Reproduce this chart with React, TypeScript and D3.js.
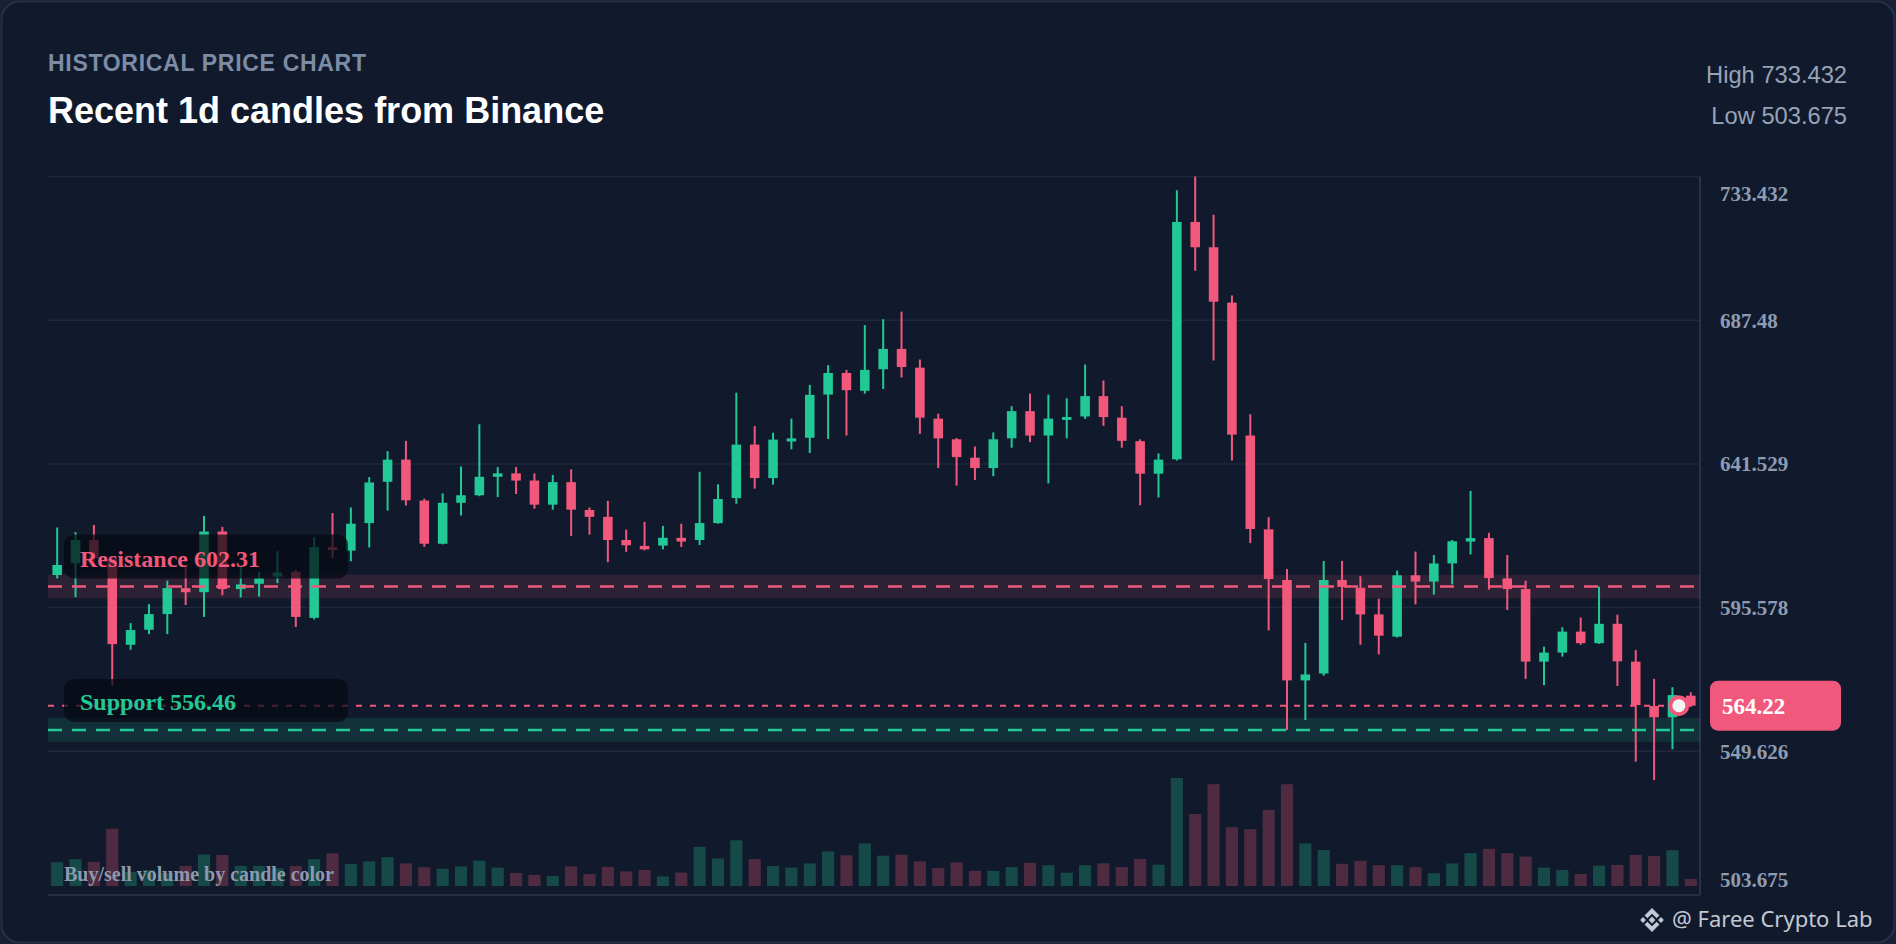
import React from "react";
import * as d3 from "d3";

// daily candles, oldest first
const opens = [
  606.0, 609.8, 617.2, 611.1, 583.7, 588.5, 593.5, 601.8, 600.5, 619.9,
  601.5, 603.2, 605.5, 607.0, 592.3, 614.9, 613.8, 622.6, 635.8, 642.9,
  629.8, 616.0, 629.1, 631.5, 637.4, 638.5, 636.2, 628.5, 635.7, 626.8,
  624.6, 617.2, 615.3, 615.4, 617.9, 617.2, 622.6, 630.6, 647.7, 637.0,
  648.7, 649.9, 663.7, 670.6, 664.9, 671.8, 678.3, 672.3, 656.0, 649.4,
  643.5, 640.2, 649.7, 658.4, 650.6, 655.6, 656.7, 663.2, 656.3, 648.8,
  638.4, 643.0, 718.9, 710.8, 693.1, 650.6, 620.6, 604.4, 572.3, 574.5,
  604.4, 601.9, 593.4, 586.3, 605.9, 603.9, 609.7, 616.7, 617.8, 604.9,
  601.5, 578.3, 581.2, 587.9, 584.2, 590.4, 578.3, 564.1, 560.5, 567.4,
];
const highs = [
  621.2, 619.7, 622.0, 611.8, 590.6, 596.7, 604.2, 608.5, 624.9, 621.4,
  608.5, 607.0, 613.6, 607.6, 618.1, 625.8, 627.6, 637.3, 645.6, 648.9,
  630.4, 632.1, 640.7, 654.2, 640.5, 640.5, 638.5, 638.0, 639.8, 627.6,
  629.7, 620.5, 623.0, 621.7, 622.4, 639.0, 635.0, 664.3, 653.6, 651.5,
  656.0, 666.8, 673.1, 671.6, 685.9, 687.8, 690.2, 674.9, 657.6, 649.8,
  647.1, 651.6, 660.0, 664.0, 663.7, 662.5, 673.3, 668.2, 660.0, 649.4,
  644.9, 729.0, 733.432, 721.2, 695.4, 657.4, 624.5, 607.9, 584.3, 610.5,
  610.5, 605.6, 598.4, 607.4, 613.5, 612.4, 617.2, 632.9, 619.5, 612.4,
  604.2, 583.1, 589.3, 592.4, 602.3, 593.3, 582.0, 572.8, 570.1, 568.5,
];
const lows = [
  604.9, 598.9, 610.1, 570.6, 582.1, 587.1, 587.1, 596.4, 592.6, 599.5,
  598.8, 599.1, 603.4, 589.4, 591.8, 611.4, 610.4, 614.8, 626.6, 628.2,
  615.0, 615.8, 625.0, 631.2, 630.9, 631.9, 627.2, 626.9, 618.5, 618.9,
  610.1, 613.4, 613.9, 614.2, 615.0, 615.6, 622.4, 628.8, 633.6, 634.9,
  646.2, 645.0, 649.5, 650.6, 664.0, 665.5, 669.2, 651.1, 640.2, 634.6,
  636.4, 637.6, 646.7, 648.5, 635.3, 649.7, 655.9, 653.7, 646.7, 628.3,
  630.8, 642.6, 703.3, 674.6, 642.6, 616.2, 588.3, 556.4, 559.6, 573.8,
  591.6, 583.7, 580.6, 586.0, 596.6, 599.7, 603.0, 612.6, 601.3, 594.8,
  572.8, 570.8, 579.9, 583.7, 584.0, 570.5, 546.3, 540.4, 550.3, 564.0,
];
const closes = [
  609.2, 617.2, 611.4, 583.9, 588.4, 593.5, 601.8, 600.5, 619.9, 601.5,
  603.0, 604.9, 606.8, 592.6, 614.9, 614.0, 622.4, 635.6, 642.9, 629.9,
  616.0, 629.1, 631.5, 637.4, 638.5, 636.2, 628.5, 635.7, 626.9, 624.6,
  617.2, 615.5, 614.2, 617.9, 616.7, 622.6, 630.3, 647.7, 637.0, 649.3,
  649.7, 663.6, 670.6, 665.1, 671.6, 678.3, 672.5, 656.3, 649.7, 643.7,
  640.2, 649.4, 658.4, 650.6, 656.0, 656.5, 663.2, 656.5, 648.9, 638.4,
  642.9, 718.9, 710.8, 693.4, 650.9, 620.7, 604.7, 572.3, 574.2, 604.4,
  602.2, 593.4, 586.6, 605.9, 603.9, 609.7, 616.8, 617.8, 605.0, 601.5,
  578.3, 581.2, 587.9, 584.2, 590.4, 578.4, 564.4, 560.5, 567.6, 564.22,
];
// volume in thousands
const volumes = [
  23.7, 26.7, 24, 57, 14, 16, 13, 20, 31.3, 31,
  20, 20, 17.7, 20, 26.7, 32.5, 21.8, 24.5, 28.7, 22.5,
  18.7, 17.2, 19.5, 25.2, 18.3, 13, 11.1, 9.9, 19.5, 11.8,
  19, 14.5, 16, 9.5, 13.4, 39, 27.5, 45.5, 26.8, 19.9,
  18.3, 22.5, 34.4, 30.6, 42.5, 30.2, 31.2, 24.5, 17.9, 23.5,
  15.1, 15.1, 18.8, 23.1, 20.7, 13.2, 20.7, 22.6, 18.8, 26.9,
  21.2, 107.6, 71.7, 101.4, 58.5, 56.6, 75.9, 101.4, 42.4, 35.8,
  22.1, 25, 20.7, 20.7, 18.8, 12.7, 22.5, 32.7, 37, 32.7,
  29.3, 18.3, 16, 12, 20.3, 21, 31, 30, 35.7, 7,
];

const tickLabels = ["733.432", "687.48", "641.529", "595.578", "549.626", "503.675"];
const priceHigh = 733.432;
const priceLow = 503.675;
const resistance = 602.31;
const support = 556.46;
const lastPrice = 564.22;

const W = 1896;
const H = 944;
const plot = { left: 48, right: 1700, top: 176.5, bottom: 895 };
const volBase = 886;
const volTop = 778;

const GREEN = "#22c997";
const RED = "#f2587b";
const BG = "#111a2c";
const SERIF = "'Liberation Serif', 'Times New Roman', serif";
const SANS = "'Liberation Sans', Arial, Helvetica, sans-serif";

function BinanceMark({ x, y, size }: { x: number; y: number; size: number }) {
  const s = size / 24;
  return (
    <g transform={`translate(${x - size / 2},${y - size / 2}) scale(${s})`} fill="#c3c9d3">
      <path d="M12 9.2L14.8 12L12 14.8L9.2 12Z" />
      <path d="M4.6 9.6L7 12L4.6 14.4L2.2 12Z" />
      <path d="M19.4 9.6L21.8 12L19.4 14.4L17 12Z" />
      <path d="M12 2L18.2 8.2L15.8 10.6L12 6.8L8.2 10.6L5.8 8.2Z" />
      <path d="M12 22L18.2 15.8L15.8 13.4L12 17.2L8.2 13.4L5.8 15.8Z" />
    </g>
  );
}

export default function App() {
  const idx = d3.range(opens.length);
  const x = d3.scaleBand<number>().domain(idx).range([plot.left, plot.right]);
  const y = d3.scaleLinear().domain([priceLow, priceHigh]).range([plot.bottom, plot.top]);
  const vy = d3.scaleLinear().domain([0, d3.max(volumes) as number]).range([volBase, volTop]);

  const step = x.bandwidth();
  const cx = (i: number) => (x(i) as number) + step / 2;
  const bodyW = step * 0.52;
  const volW = step * 0.66;

  const rY = y(resistance);
  const sY = y(support);
  const pY = y(lastPrice);
  const last = opens.length - 1;

  return (
    <div style={{ position: "absolute", left: 0, top: 0, width: W, height: H }}>
      <style>{`body{margin:0;background:#172133;}`}</style>
      <svg width={W} height={H} style={{ display: "block" }}>
        <rect x={0} y={0} width={W} height={H} fill="#172133" />
        <rect x={1.5} y={1.5} width={W - 3} height={H - 3} rx={18} fill={BG} stroke="#243049" strokeWidth={2} />

        {/* header */}
        <text x={48} y={71} fill="#7d8ca5" fontFamily={SANS} fontWeight={700} fontSize={23} letterSpacing={0.7}>
          HISTORICAL PRICE CHART
        </text>
        <text x={48} y={123} fill="#ffffff" fontFamily={SANS} fontWeight={700} fontSize={36}>
          Recent 1d candles from Binance
        </text>
        <text x={1847} y={83} fill="#97a3b6" fontFamily={SANS} fontSize={23.7} textAnchor="end">
          High {priceHigh}
        </text>
        <text x={1847} y={124} fill="#97a3b6" fontFamily={SANS} fontSize={23.7} textAnchor="end">
          Low {priceLow}
        </text>

        {/* grid */}
        {tickLabels.map((t) => (
          <line key={"g" + t} x1={plot.left} x2={plot.right} y1={y(+t)} y2={y(+t)} stroke="#1e293b" strokeWidth={1.5} />
        ))}
        <line x1={plot.right} x2={plot.right} y1={plot.top} y2={plot.bottom} stroke="#273349" strokeWidth={2} />
        <line x1={plot.left} x2={plot.right} y1={plot.bottom} y2={plot.bottom} stroke="#273349" strokeWidth={1.5} />

        {/* level bands */}
        <rect x={plot.left} width={plot.right - plot.left} y={rY - 11.7} height={23.4} fill={RED} fillOpacity={0.13} />
        <rect x={plot.left} width={plot.right - plot.left} y={sY - 12} height={24} fill={GREEN} fillOpacity={0.13} />

        {/* volume */}
        {idx.map((i) => (
          <rect
            key={"v" + i}
            x={cx(i) - volW / 2}
            width={volW}
            y={vy(volumes[i])}
            height={volBase - vy(volumes[i])}
            fill={closes[i] >= opens[i] ? GREEN : RED}
            fillOpacity={0.28}
          />
        ))}

        {/* candles */}
        {idx.map((i) => {
          const up = closes[i] >= opens[i];
          const c = up ? GREEN : RED;
          const top = y(Math.max(opens[i], closes[i]));
          const h = Math.max(1.8, Math.abs(y(opens[i]) - y(closes[i])));
          return (
            <g key={"c" + i}>
              <line x1={cx(i)} x2={cx(i)} y1={y(highs[i])} y2={y(lows[i])} stroke={c} strokeWidth={2} />
              <rect x={cx(i) - bodyW / 2} width={bodyW} y={top} height={h} fill={c} />
            </g>
          );
        })}

        {/* level lines */}
        <line x1={plot.left} x2={plot.right} y1={rY} y2={rY} stroke={RED} strokeWidth={2.5} strokeDasharray="14 10" />
        <line x1={plot.left} x2={plot.right} y1={sY} y2={sY} stroke={GREEN} strokeWidth={2.5} strokeDasharray="14 10" />
        <line x1={plot.left} x2={plot.right} y1={pY} y2={pY} stroke={RED} strokeWidth={2} strokeDasharray="6 8" />

        {/* level labels */}
        <rect x={64} y={rY - 52} width={284} height={44} rx={10} fill="#060a12" fillOpacity={0.72} />
        <text x={80} y={rY - 19.5} fill={RED} fontFamily={SERIF} fontWeight={700} fontSize={24}>
          Resistance {resistance}
        </text>
        <rect x={64} y={sY - 51} width={284} height={43} rx={10} fill="#060a12" fillOpacity={0.72} />
        <text x={80} y={sY - 19.5} fill={GREEN} fontFamily={SERIF} fontWeight={700} fontSize={24}>
          Support {support}
        </text>

        {/* live marker */}
        <circle cx={cx(last) - 12} cy={pY} r={8.5} fill="#f4f4f6" stroke={RED} strokeWidth={4} />

        <text x={64} y={881} fill="#8d99ad" fontFamily={SERIF} fontWeight={700} fontSize={20}>
          Buy/sell volume by candle color
        </text>

        {/* price axis */}
        {tickLabels.map((t) => {
          const ty = Math.min(Math.max(y(+t), plot.top + 17), plot.bottom - 15);
          return (
            <text key={"t" + t} x={1720} y={ty} dy="0.35em" fill="#8f9bb0" fontFamily={SERIF} fontWeight={700} fontSize={21}>
              {t}
            </text>
          );
        })}
        <rect x={1710} y={pY - 25} width={131} height={50} rx={8} fill={RED} />
        <text x={1722} y={pY} dy="0.35em" fill="#ffffff" fontFamily={SERIF} fontWeight={700} fontSize={23}>
          {lastPrice}
        </text>

        {/* watermark */}
        <BinanceMark x={1652} y={920} size={29} />
        <text x={1672} y={927} fill="#c3c9d3" fontFamily="'Noto Sans', 'Open Sans', sans-serif" fontSize={22}>
          @ Faree Crypto Lab
        </text>
      </svg>
    </div>
  );
}
